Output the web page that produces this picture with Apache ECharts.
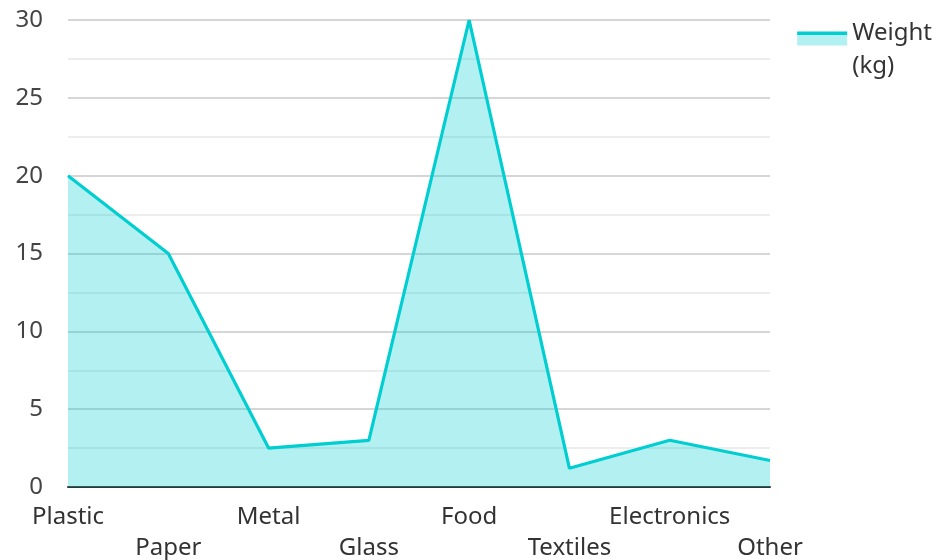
<!DOCTYPE html>
<html><head><meta charset="utf-8">
<script src="https://cdn.jsdelivr.net/npm/echarts@6/dist/echarts.min.js"></script>
<style>html,body{margin:0;padding:0;background:#fff}#c{width:940px;height:560px}</style>
</head><body><div id="c"></div>
<script>
const categories = ['Plastic','Paper','Metal','Glass','Food','Textiles','Electronics','Other'];
const weights = [20, 15, 2.5, 3, 30, 1.2, 3, 1.7];
const yTicks = [0, 5, 10, 15, 20, 25, 30];
const seriesName = 'Weight (kg)';

const chart = echarts.init(document.getElementById('c'));
const font = 'Noto Sans';
chart.setOption({
  animation: false,
  textStyle: { fontFamily: font },
  grid: { left: 68, right: 170, top: 20, bottom: 73, outerBoundsMode: 'none', containLabel: false },
  legend: {
    right: 3, top: 12,
    orient: 'vertical',
    itemWidth: 50, itemHeight: 37,
    icon: 'path://M0,0H50V14H0Z M0,37L50,37',
    formatter: n => n.replace(' ', '\n'),
    textStyle: { fontSize: 24, color: '#333', fontFamily: font, lineHeight: 33 },
    itemStyle: {
      color: { type: 'linear', x: 0, y: 0, x2: 0, y2: 1, colorStops: [
        { offset: 0, color: '#00CED1' }, { offset: 0.085, color: '#00CED1' },
        { offset: 0.085, color: '#B2F0F1' }, { offset: 1, color: '#B2F0F1' } ] },
      borderWidth: 0
    },
    lineStyle: { width: 0, opacity: 0 }
  },
  xAxis: {
    type: 'category', data: categories, boundaryGap: false,
    axisLine: { lineStyle: { color: '#333', width: 2 } },
    axisTick: { show: false },
    axisLabel: {
      interval: 0, fontSize: 24, color: '#333', margin: 15, lineHeight: 31,
      formatter: (v, i) => (i % 2 === 1 ? '\n' + v : v)
    }
  },
  yAxis: {
    type: 'value', min: yTicks[0], max: yTicks[yTicks.length-1], interval: 5,
    axisLine: { show: false }, axisTick: { show: false },
    axisLabel: { fontSize: 24, color: '#444', margin: 25 },
    splitLine: { lineStyle: { color: '#c8c8c8', width: 1.5 } },
    minorTick: { show: false, splitNumber: 2 },
    minorSplitLine: { show: true, lineStyle: { color: '#e8e8e8', width: 1.5 } }
  },
  series: [{
    name: seriesName, type: 'line', data: weights,
    symbol: 'none',
    lineStyle: { color: '#00CED1', width: 3.2 },
    itemStyle: { color: '#00CED1' },
    areaStyle: { color: '#00CED1', opacity: 0.3 }
  }]
});
</script></body></html>
